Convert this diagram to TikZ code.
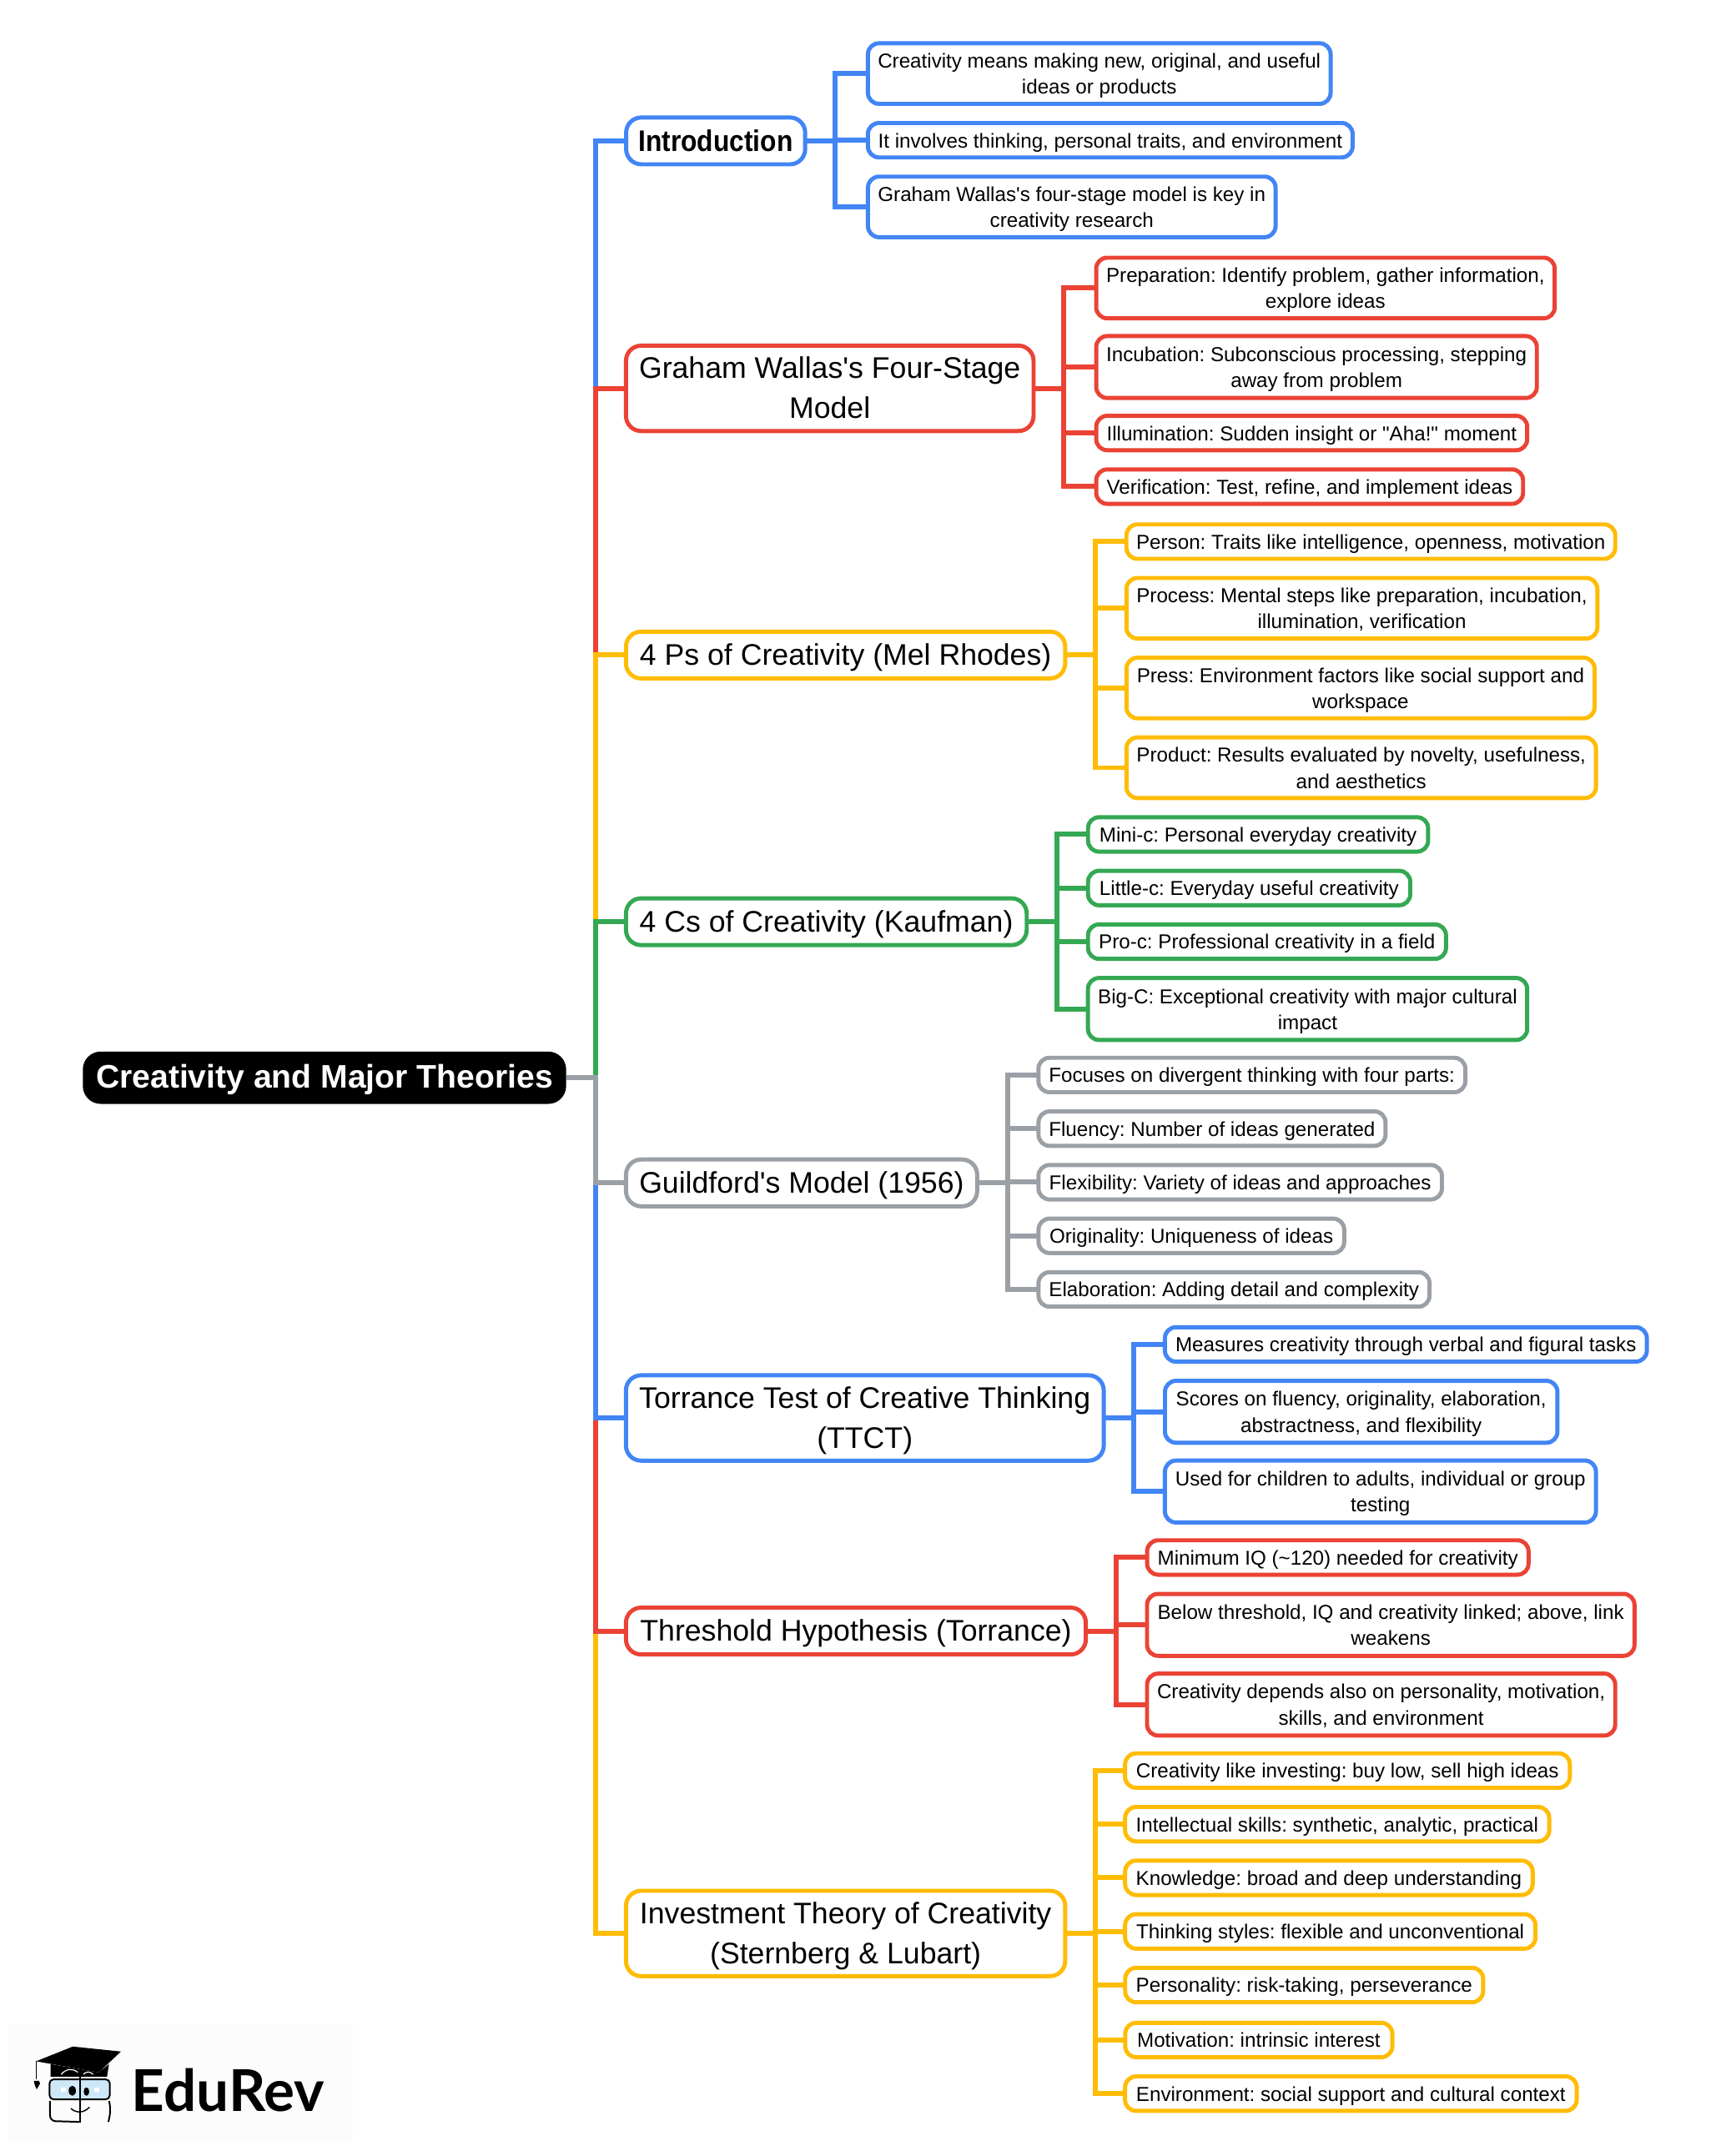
\documentclass[tikz,border=0pt]{standalone}
\usepackage{fontspec}
\setmainfont{Liberation Sans}[Ligatures=TeXOff]
\newfontfamily\introfont{Liberation Sans}[Ligatures=TeXOff,FakeStretch=0.89]
\newfontfamily\logofont{Lato}
\definecolor{gblue}{HTML}{4285F4}
\definecolor{gred}{HTML}{EA4335}
\definecolor{gyellow}{HTML}{FFBC05}
\definecolor{ggreen}{HTML}{34A853}
\definecolor{ggray}{HTML}{9AA0A6}
\definecolor{glass}{HTML}{CFE8F8}
% a taller strut on the first line moves the text of a box down by 1.6pt
\newcommand{\topstrut}{\rule{0pt}{\dimexpr0.7\baselineskip+3.2pt\relax}}
\newcommand{\botstrut}{\rule[-0.3\baselineskip]{0pt}{0.3\baselineskip}}
\newcommand{\bx}[7]{%
  \pgfmathsetmacro{\cxx}{(#2+#4)/2}\pgfmathsetmacro{\cyy}{(#3+#5)/2}%
  \pgfmathsetmacro{\ww}{#4-#2-1}\pgfmathsetmacro{\hh}{#5-#3-1}%
  \node[#6,minimum width=\ww pt,minimum height=\hh pt] (#1) at (\cxx,\cyy) {\topstrut #7\botstrut};}
\tikzset{
  boxbase/.style={draw,fill=white,line width=3pt,rounded corners=8pt,inner sep=0pt,outer sep=0pt,align=center,text=black},
  leaf/.style={boxbase,font=\fontsize{14.65}{19}\selectfont\frenchspacing},
  branch/.style={boxbase,rounded corners=11pt,font=\fontsize{21.6}{29}\selectfont\frenchspacing},
  rootbox/.style={fill=black,text=white,rounded corners=13pt,inner sep=0pt,outer sep=0pt,font=\fontsize{23.7}{29}\selectfont\bfseries},
  conn/.style={line width=3.6pt},
}
\begin{document}
\begin{tikzpicture}[x=0.9985pt,y=-0.9985pt]
\useasboundingbox (0,0) rectangle (1258.9,1568.4);
\coordinate (spine) at (433,0);
\node[rootbox,minimum width=351pt,minimum height=38pt] (root) at (236,784) {\topstrut Creativity and Major Theories\botstrut};
% branches
\bx{intro}{455}{85}{586}{120}{branch,draw=gblue,font=\fontsize{21.6}{29}\selectfont\introfont\bfseries}{Introduction}
\bx{wallas}{455}{251}{752}{314}{branch,draw=gred}{Graham Wallas's Four-Stage\\Model}
\bx{ps}{455}{459}{775}{494}{branch,draw=gyellow}{4 Ps of Creativity (Mel Rhodes)}
\bx{cs}{455}{653}{747}{688}{branch,draw=ggreen}{4 Cs of Creativity (Kaufman)}
\bx{guil}{455}{843}{711}{878}{branch,draw=ggray}{Guildford's Model (1956)}
\bx{ttct}{455}{1000}{803}{1063}{branch,draw=gblue}{Torrance Test of Creative Thinking\\(TTCT)}
\bx{thr}{455}{1169}{790}{1204}{branch,draw=gred}{Threshold Hypothesis (Torrance)}
\bx{inv}{455}{1375}{775}{1438}{branch,draw=gyellow}{Investment Theory of Creativity\\(Sternberg \& Lubart)}
% leaves
\bx{a1}{631}{31}{968}{76}{leaf,draw=gblue}{Creativity means making new, original, and useful\\ideas or products}
\bx{a2}{631}{89}{984}{115}{leaf,draw=gblue}{It involves thinking, personal traits, and environment}
\bx{a3}{631}{128}{928}{173}{leaf,draw=gblue}{Graham Wallas's four-stage model is key in\\creativity research}
\bx{b1}{797}{187}{1131}{232}{leaf,draw=gred}{Preparation: Identify problem, gather information,\\explore ideas}
\bx{b2}{797}{244}{1118}{290}{leaf,draw=gred}{Incubation: Subconscious processing, stepping\\away from problem}
\bx{b3}{797}{302}{1111}{328}{leaf,draw=gred}{Illumination: Sudden insight or "Aha!" moment}
\bx{b4}{797}{341}{1108}{367}{leaf,draw=gred}{Verification: Test, refine, and implement ideas}
\bx{c1}{819}{381}{1175}{407}{leaf,draw=gyellow}{Person: Traits like intelligence, openness, motivation}
\bx{c2}{819}{420}{1162}{465}{leaf,draw=gyellow}{Process: Mental steps like preparation, incubation,\\illumination, verification}
\bx{c3}{819}{478}{1160}{523}{leaf,draw=gyellow}{Press: Environment factors like social support and\\workspace}
\bx{c4}{819}{536}{1161}{581}{leaf,draw=gyellow}{Product: Results evaluated by novelty, usefulness,\\and aesthetics}
\bx{d1}{791}{594}{1039}{620}{leaf,draw=ggreen}{Mini-c: Personal everyday creativity}
\bx{d2}{791}{633}{1026}{659}{leaf,draw=ggreen}{Little-c: Everyday useful creativity}
\bx{d3}{791}{672}{1052}{698}{leaf,draw=ggreen}{Pro-c: Professional creativity in a field}
\bx{d4}{791}{711}{1111}{757}{leaf,draw=ggreen}{Big-C: Exceptional creativity with major cultural\\impact}
\bx{e1}{755}{769}{1066}{795}{leaf,draw=ggray}{Focuses on divergent thinking with four parts:}
\bx{e2}{755}{808}{1008}{834}{leaf,draw=ggray}{Fluency: Number of ideas generated}
\bx{e3}{755}{847}{1049}{873}{leaf,draw=ggray}{Flexibility: Variety of ideas and approaches}
\bx{e4}{755}{886}{978}{912}{leaf,draw=ggray}{Originality: Uniqueness of ideas}
\bx{e5}{755}{925}{1040}{951}{leaf,draw=ggray}{Elaboration: Adding detail and complexity}
\bx{f1}{847}{965}{1198}{991}{leaf,draw=gblue}{Measures creativity through verbal and figural tasks}
\bx{f2}{847}{1004}{1133}{1050}{leaf,draw=gblue}{Scores on fluency, originality, elaboration,\\abstractness, and flexibility}
\bx{f3}{847}{1062}{1161}{1108}{leaf,draw=gblue}{Used for children to adults, individual or group\\testing}
\bx{g1}{834}{1120}{1112}{1146}{leaf,draw=gred}{Minimum IQ (\textasciitilde 120) needed for creativity}
\bx{g2}{834}{1159}{1189}{1205}{leaf,draw=gred}{Below threshold, IQ and creativity linked; above, link\\weakens}
\bx{g3}{834}{1217}{1175}{1263}{leaf,draw=gred}{Creativity depends also on personality, motivation,\\skills, and environment}
\bx{h1}{818}{1275}{1142}{1301}{leaf,draw=gyellow}{Creativity like investing: buy low, sell high ideas}
\bx{h2}{818}{1314}{1127}{1340}{leaf,draw=gyellow}{Intellectual skills: synthetic, analytic, practical}
\bx{h3}{818}{1353}{1115}{1379}{leaf,draw=gyellow}{Knowledge: broad and deep understanding}
\bx{h4}{818}{1392}{1117}{1418}{leaf,draw=gyellow}{Thinking styles: flexible and unconventional}
\bx{h5}{818}{1431}{1079}{1457}{leaf,draw=gyellow}{Personality: risk-taking, perseverance}
\bx{h6}{818}{1471}{1013}{1497}{leaf,draw=gyellow}{Motivation: intrinsic interest}
\bx{h7}{818}{1510}{1147}{1536}{leaf,draw=gyellow}{Environment: social support and cultural context}
% connectors
\foreach \n/\c in {intro/gblue,wallas/gred,ps/gyellow,cs/ggreen,inv/gyellow,thr/gred,ttct/gblue,guil/ggray}
  \draw[conn,draw=\c] (root.east) -- (spine |- root.east) -- (spine |- \n.west) -- (\n.west);
\foreach \p/\c/\l in {intro/gblue/{a1,a2,a3},wallas/gred/{b1,b2,b3,b4},ps/gyellow/{c1,c2,c3,c4},cs/ggreen/{d1,d2,d3,d4},guil/ggray/{e1,e2,e3,e4,e5},ttct/gblue/{f1,f2,f3},thr/gred/{g1,g2,g3},inv/gyellow/{h1,h2,h3,h4,h5,h6,h7}}
  \foreach \k in \l
    \draw[conn,draw=\c] (\p.east) -- ++(22,0) |- (\k.west);
% logo
\fill[black!1] (6,1472) rectangle (256.4,1558);
\begin{scope}[shift={(0,1456)},x=0.2019pt,y=-0.2019pt]
  \fill (130,215) -- (262,162) -- (435,180) -- (355,255) -- cycle;
  \fill (182,225) -- (355,255) -- (392,225) -- (385,270) -- (182,270) -- cycle;
  \draw[white,line width=0.7pt] (220,262) .. controls (240,240) and (262,240) .. (280,255);
  \draw[white,line width=0.7pt] (300,262) .. controls (310,250) and (325,252) .. (335,262);
  \draw[line width=0.8pt] (131,215) -- (131,280);
  \fill (122,285) -- (140,285) -- (144,295) -- (132,316) -- (125,300) -- cycle;
  \draw[line width=1.2pt,fill=glass,rounded corners=3pt] (178,280) rectangle (395,352);
  \draw[line width=1.2pt,rounded corners=4pt] (180,358) -- (180,430) -- (285,433);
  \draw[line width=1.2pt,rounded corners=4pt] (393,358) -- (398,395) -- (390,433);
  \draw[line width=1.2pt] (288,270) -- (288,435);
  \fill (260,321) ellipse[x radius=13,y radius=18];
  \fill (311,324) ellipse[x radius=10,y radius=15];
  \fill[white] (220,310) rectangle (236,326);
  \fill[white] (340,310) rectangle (357,326);
  \draw[line width=0.9pt] (255,385) .. controls (275,402) and (300,402) .. (322,380);
\end{scope}
\node[anchor=base west,inner sep=0pt,font=\fontsize{41.9}{42}\selectfont\logofont\bfseries] (logo) at (95.6,1536) {EduRev};
\end{tikzpicture}
\end{document}
